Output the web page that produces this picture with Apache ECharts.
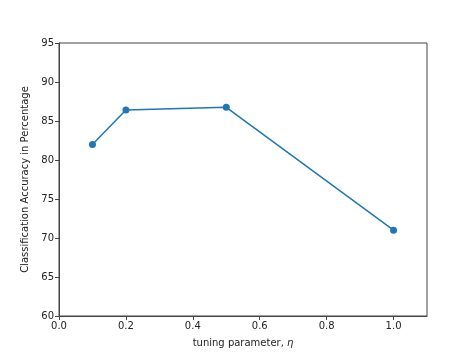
<!DOCTYPE html>
<html><head><meta charset="utf-8">
<script src="https://cdn.jsdelivr.net/npm/echarts@6/dist/echarts.min.js"></script>
<style>html,body{margin:0;padding:0;background:#fff}#c{width:474px;height:355px}</style>
</head><body><div id="c"></div>
<script>
const etaValues = [0.1, 0.2, 0.5, 1.0];
const accuracy = [82.0, 86.4, 86.75, 71.0];
const xTicks = [0.0, 0.2, 0.4, 0.6, 0.8, 1.0];
const xLabel = 'tuning parameter, ';
const yLabel = 'Classification Accuracy in Percentage';

const chart = echarts.init(document.getElementById('c'), null, {renderer: 'canvas'});
const font = 'DejaVu Sans';
chart.setOption({
  animation: false,
  backgroundColor: '#fff',
  grid: {left: 59, right: 47, top: 43, bottom: 39, show: true, borderColor: '#444', borderWidth: 1, backgroundColor: 'transparent'},
  xAxis: {
    type: 'value', min: 0, max: 1.1, interval: 0.2,
    axisLine: {show: true, onZero: false, lineStyle: {color: '#444', width: 1}},
    axisTick: {show: true, length: 4, lineStyle: {color: '#444'}, customValues: xTicks},
    splitLine: {show: false},
    axisLabel: {color: '#222', fontFamily: font, fontSize: 10, margin: 5, customValues: xTicks,
      formatter: v => v > 1.05 ? '' : v.toFixed(1)},
    name: '{a|' + xLabel + '}{b|η}',
    nameLocation: 'middle', nameGap: 22,
    nameTextStyle: {rich: {a: {fontFamily: font, fontSize: 10, color: '#222'}, b: {fontFamily: font, fontSize: 10, color: '#222', fontStyle: 'italic'}}}
  },
  yAxis: {
    type: 'value', min: 60, max: 95, interval: 5,
    axisLine: {show: true, lineStyle: {color: '#444', width: 1}},
    axisTick: {show: true, length: 4, lineStyle: {color: '#444'}},
    splitLine: {show: false},
    axisLabel: {color: '#222', fontFamily: font, fontSize: 10, margin: 5},
    name: yLabel, nameLocation: 'middle', nameGap: 26,
    nameTextStyle: {fontFamily: font, fontSize: 10, color: '#222'}
  },
  series: [{
    type: 'line',
    data: etaValues.map((x, i) => [x, accuracy[i]]),
    symbol: 'circle', symbolSize: 7,
    itemStyle: {color: '#1f77b4'},
    lineStyle: {color: '#1f77b4', width: 1.5}
  }]
});
</script></body></html>
